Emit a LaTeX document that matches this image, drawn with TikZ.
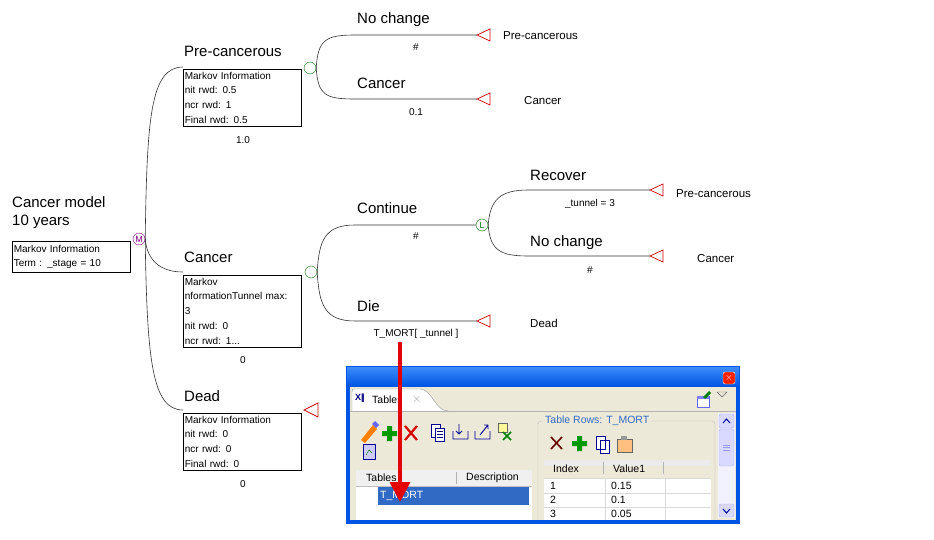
\documentclass[tikz,border=0pt]{standalone}
\usepackage{fontspec}
\setmainfont{Liberation Sans}
\usetikzlibrary{arrows.meta}
\definecolor{xpbg}{RGB}{236,233,216}
\definecolor{xpsel}{RGB}{49,106,197}
\definecolor{xpblue}{RGB}{0,84,227}
\definecolor{xplt}{RGB}{60,140,250}
\begin{document}
\begin{tikzpicture}[x=1pt,y=-1pt,
  big/.style={anchor=base west,inner sep=0,font=\fontsize{15}{18}\selectfont},
  sm/.style={inner sep=0,font=\fontsize{10}{12}\selectfont},
  box/.style={draw,line width=0.7pt,anchor=north west,align=left,inner xsep=1.5pt,inner ysep=2.5pt,font=\fontsize{10}{14.8}\selectfont,text width=#1},
  br/.style={line width=0.6pt,draw=black!80},
  hl/.style={double,double distance=1.2pt,line width=0.5pt},
  tri/.style={draw=red!80!black,line width=0.7pt,fill=white},
  ch/.style={circle,draw=green!45!black,fill=white,minimum size=12pt,inner sep=0},
  lbl/.style={inner sep=0,anchor=base west,font=\fontsize{11.5}{13}\selectfont},
  ui/.style={inner sep=0,font=\fontsize{10.5}{12}\selectfont}]
\useasboundingbox[fill=white] (0,0) rectangle (934,540);
\node[big,align=left,anchor=north west] (root) at (12,196) {Cancer model\\10 years};
\draw[hl] (12,238) -- (133,238);
\node[box=115pt,inner ysep=3.5pt] (rootbox) at (12,241) {Markov Information\\ Term : \_stage = 10};
\node[circle,draw=violet,minimum size=12pt,inner sep=0,font=\fontsize{9}{9}\selectfont,text=violet] (M) at (139,239) {M};
\coordinate (pc) at (183,67);
\coordinate (ca) at (183,272);
\coordinate (de) at (183,410);
\draw[br] (M.east) .. controls (147,120) and (150,67) .. (pc);
\draw[br] (M.east) .. controls (147,260) and (160,272) .. (ca);
\draw[br] (M.east) .. controls (147,360) and (152,410) .. (de);
\node[big] (pct) at (184,57) {Pre-cancerous};
\draw[hl] (pc) -- (304,67);
\node[box=115pt] (pcbox) at (183,69) {Markov Information\\nit rwd: 0.5\\ncr rwd: 1\\Final rwd: 0.5};
\node[sm] (pcp) at (243,140) {1.0};
\node[ch] (c1) at (310,68) {};
\node[big] (cat) at (184,262) {Cancer};
\draw[hl] (ca) -- (304,272);
\node[box=115pt] (cabox) at (183,275) {Markov\\nformationTunnel max:\\3\\nit rwd: 0\\ncr rwd: 1...};
\node[sm] (cap) at (243,360) {0};
\node[ch] (c2) at (311,272) {};
\node[big] (det) at (184,401) {Dead};
\draw[hl] (de) -- (304,410);
\node[box=115pt] (debox) at (183,413) {Markov Information\\nit rwd: 0\\ncr rwd: 0\\Final rwd: 0};
\node[sm] (dep) at (243,484) {0};
\draw[tri] (304,410) -- (318,403) -- (318,417) -- cycle;
\coordinate (nc1) at (355,35);
\coordinate (cc1) at (355,99);
\draw[br] (c1.east) .. controls (318,40) and (325,35) .. (nc1) -- (477,35);
\draw[br] (c1.east) .. controls (318,95) and (325,99) .. (cc1) -- (477,99);
\draw[tri] (477,35) -- (490,29) -- (490,41) -- cycle;
\draw[tri] (477,99) -- (490,93) -- (490,105) -- cycle;
\node[big] (nct) at (357,24) {No change};
\node[big] (cct) at (357,89) {Cancer};
\node[sm] (p1) at (416,47) {\#};
\node[sm] (p2) at (416,112) {0.1};
\node[lbl] (e1) at (503,40) {Pre-cancerous};
\node[lbl] (e2) at (524,105) {Cancer};
\coordinate (co) at (355,225);
\coordinate (di) at (355,321);
\draw[br] (c2.east) .. controls (319,240) and (325,225) .. (co) -- (476,225);
\draw[br] (c2.east) .. controls (319,305) and (325,321) .. (di) -- (477,321);
\draw[tri] (477,321) -- (490,315) -- (490,327) -- cycle;
\node[big] (cot) at (357,214) {Continue};
\node[big] (dit) at (357,311) {Die};
\node[sm] (p3) at (416,236) {\#};
\node[sm] (p4) at (416,334) {T\_MORT[ \_tunnel ]};
\node[lbl] (e3) at (530,327) {Dead};
\node[ch,font=\fontsize{9}{9}\selectfont,text=green!45!black] (L) at (482,225) {L};
\coordinate (re) at (528,190);
\coordinate (n2) at (528,256);
\draw[br] (L.east) .. controls (490,200) and (500,190) .. (re) -- (650,190);
\draw[br] (L.east) .. controls (490,250) and (500,256) .. (n2) -- (650,256);
\draw[tri] (650,190) -- (663,184) -- (663,196) -- cycle;
\draw[tri] (650,256) -- (663,250) -- (663,262) -- cycle;
\node[big] (ret) at (530,181) {Recover};
\node[big] (n2t) at (530,246) {No change};
\node[sm] (p5) at (590,204) {\_tunnel = 3};
\node[sm] (p6) at (590,270) {\#};
\node[lbl] (e4) at (676,197) {Pre-cancerous};
\node[lbl] (e5) at (697,262) {Cancer};
% ---------- panel
\fill[xpblue] (346,366) rectangle (740,524);
\shade[top color=xplt, bottom color=xpblue] (347,367) rectangle (739,386);
\node[draw=white,fill=red!75!orange,minimum size=12pt,inner sep=0,rounded corners=2pt,text=white,font=\bfseries\fontsize{10}{10}\selectfont] (close) at (729,378) {$\times$};
\fill[xpbg] (350,387) rectangle (736,520);
\draw[black!40,fill=white] (352,411) -- (352,392) .. controls (352,389) .. (356,389) -- (420,389) .. controls (432,389) and (435,411) .. (448,411);
\node[ui,anchor=west] (tabt) at (372,400) {Tables};
\node[ui,anchor=west,text=black!40,font=\bfseries\fontsize{12}{12}\selectfont] (tabx) at (412,399) {$\times$};
\node[ui,anchor=west,font=\bfseries\fontsize{9}{9}\selectfont,text=blue!50!black] (tabi) at (355,398) {X|\!|};
\draw[black!30] (350,411) -- (736,411);
\draw[black!60] (717,392) -- (727,392) -- (722,397) -- cycle;
\draw[blue!60,fill=white] (697,396) rectangle (709,407);
\fill[blue!50] (697,396) rectangle (709,399);
\fill[green!50!black] (703,397) -- (709,391) -- (711,393) -- (705,399) -- cycle;
\fill[orange] (361,440) -- (373,425) -- (377,429) -- (365,443) -- cycle;
\fill[blue!60] (372,424) -- (375,421) -- (379,425) -- (376,428) -- cycle;
\fill[green!60!black] (387,426) rectangle (392,441) (382,431) rectangle (397,436);
\draw[red!85!black,line width=2.2pt] (405,426) -- (417,440) (417,426) -- (405,440);
\draw[blue!60!black,fill=white] (431,424) rectangle (440,437);
\draw[blue!60!black,fill=white] (435,428) rectangle (444,441);
\draw[blue!50!black,line width=0.4pt] (436.5,431) -- (442.5,431) (436.5,434) -- (442.5,434) (436.5,437) -- (442.5,437);
\draw[blue!60!black,line width=0.9pt] (453,431) -- (453,439) -- (468,439) -- (468,431) (459,424) -- (459,434) (456,431) -- (459,434) -- (462,431);
\draw[blue!60!black,line width=0.9pt] (475,431) -- (475,439) -- (490,439) -- (490,431) (480,435) -- (488,425) (484,425) -- (488,425) -- (488,429);
\draw[black!60,fill=yellow!40] (498,423) rectangle (507,432);
\draw[green!50!black,line width=1.5pt] (503,432) -- (511,440) (511,432) -- (503,440);
\draw[blue!60!black,fill=blue!20] (363,444) rectangle (375,459);
\draw[green!50!black] (366,455) -- (369,450) -- (372,453);
\fill[white] (356,470) rectangle (532,520);
\fill[black!6] (356,470) rectangle (532,486);
\draw[black!25] (356,486) -- (532,486);
\node[ui,anchor=west] (th1) at (366,478) {Tables};
\draw[black!30] (456,472) -- (456,484);
\node[ui,anchor=west] (th2) at (466,478) {Description};
\fill[xpsel] (378,487) rectangle (529,505);
\node[ui,anchor=west,text=white] (tm) at (380,496) {T\_MORT};
\draw[black!25,rounded corners=3pt] (538,520) -- (538,421) -- (543,421) (651,421) -- (715,421) -- (715,520);
\node[ui,anchor=west,text=xpsel] (trt) at (545,421) {Table Rows: T\_MORT};
\draw[red!40!black,line width=1.6pt] (551,437) -- (562,449) (562,437) -- (551,449);
\fill[green!60!black] (577,436) rectangle (582,451) (572,441) rectangle (587,446);
\draw[blue!60!black,fill=white] (596,436) rectangle (605,449) (600,440) rectangle (609,453);
\draw[black!60,fill=orange!50] (617,439) rectangle (632,452);
\fill[black!40] (621,436) rectangle (627,440);
\fill[black!8] (544,460) rectangle (711,466);
\node[ui,anchor=west] (ih) at (553,469) {Index};
\draw[black!30] (603,462) -- (603,474) (663,462) -- (663,474);
\node[ui,anchor=west] (vh) at (613,469) {Value1};
\fill[white] (544,478) rectangle (711,520);
\draw[black!15] (544,478) -- (711,478) (544,493) -- (711,493) (544,507) -- (711,507) (605,478) -- (605,520) (665,478) -- (665,520);
\node[ui,anchor=west] (r1) at (550,486) {1};
\node[ui,anchor=west] (r2) at (550,500) {2};
\node[ui,anchor=west] (r3) at (550,514) {3};
\node[ui,anchor=west] (v1) at (611,486) {0.15};
\node[ui,anchor=west] (v2) at (611,500) {0.1};
\node[ui,anchor=west] (v3) at (611,514) {0.05};
\fill[blue!5] (718,413) rectangle (735,518);
\draw[blue!30,fill=blue!15,rounded corners=2pt] (719,414) rectangle (734,428) (719,429) rectangle (734,466) (719,504) rectangle (734,517);
\draw[blue!60!black,line width=1pt] (723,423) -- (726.5,419) -- (730,423) (723,509) -- (726.5,513) -- (730,509);
\draw[blue!40] (723,445) -- (730,445) (723,447.5) -- (730,447.5) (723,450) -- (730,450);
\coordinate (as) at (400,342);
\coordinate (ae) at (400,502);
\draw[red!90!black,line width=3.5pt,-{Triangle[length=20pt,width=20pt]}] (as) -- (ae);
\end{tikzpicture}
\end{document}
